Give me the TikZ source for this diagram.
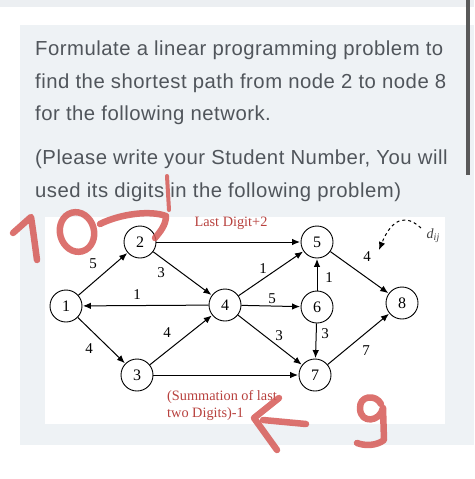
\documentclass[tikz,border=0pt]{standalone}
\usepackage{fontspec}
\setmainfont{Liberation Serif}
\newfontfamily\uisans[LetterSpace=2.5]{Liberation Sans}
\usetikzlibrary{arrows.meta}
\definecolor{panel}{HTML}{EEF2F5}
\definecolor{topband}{HTML}{ECEFF2}
\definecolor{txt}{HTML}{50555B}
\definecolor{dred}{HTML}{B8413E}
\definecolor{pen}{HTML}{D65A56}
\tikzset{
  qtext/.style={anchor=base west, inner sep=0, font=\uisans\fontsize{20.3}{21}\selectfont, text=txt},
  vtx/.style={circle, draw, line width=0.9pt, minimum size=32pt, inner sep=0, font=\fontsize{16}{16}\selectfont, fill=white},
  arr/.style={-{Latex[length=8pt,width=6.5pt]}, line width=1pt, shorten >=0.5pt},
  lbl/.style={font=\fontsize{15}{15}\selectfont, inner sep=0},
  redtxt/.style={font=\fontsize{14.3}{17}\selectfont, text=dred, inner sep=0},
  penstroke/.style={draw=pen, line width=6.5pt, line cap=round, line join=round, opacity=0.85}
}
\begin{document}
\begin{tikzpicture}[x=1pt,y=-1pt]
\useasboundingbox (0,0) rectangle (474,479);
\fill[white] (0,0) rectangle (474,479);
\fill[topband] (0,0) rectangle (474,7);
\fill[panel] (20,25) rectangle (474,445);
\fill[white] (45,217) rectangle (445,424);
\fill[gray!70!black] (466,0) rectangle (470,175);

\node[qtext] (q1) at (35,55) {Formulate a linear programming problem to};
\node[qtext] (q2) at (35,88) {find the shortest path from node 2 to node 8};
\node[qtext] (q3) at (35,120) {for the following network.};
\node[qtext] (q4) at (35,164) {(Please write your Student Number, You will};
\node[qtext] (q5) at (35,197) {used its digits in the following problem)};

\node[vtx] (n1) at (66,306) {1};
\node[vtx] (n2) at (140,242) {2};
\node[vtx] (n3) at (137,375) {3};
\node[vtx] (n4) at (225,305) {4};
\node[vtx] (n5) at (317,242) {5};
\node[vtx] (n6) at (317,307) {6};
\node[vtx] (n7) at (315,375) {7};
\node[vtx] (n8) at (402,303) {8};

\draw[arr] (n1) -- (n2);
\draw[arr] (n2) -- (n4);
\draw[arr] (n4) -- (n1);
\draw[arr] (n1) -- (n3);
\draw[arr] (n3) -- (n4);
\draw[arr] (n2) -- (n5);
\draw[arr] (n4) -- (n5);
\draw[arr] (n4) -- (n6);
\draw[arr] (n6) -- (n5);
\draw[arr] (n4) -- (n7);
\draw[arr] (n6) -- (n7);
\draw[arr] (n3) -- (n7);
\draw[arr] (n5) -- (n8);
\draw[arr] (n7) -- (n8);

\node[lbl] (w12) at (93,264) {5};
\node[lbl] (w24) at (161,273) {3};
\node[lbl] (w41) at (137,295) {1};
\node[lbl] (w13) at (89,349) {4};
\node[lbl] (w34) at (167,333) {4};
\node[lbl] (w45) at (263,269) {1};
\node[lbl] (w46) at (272,299) {5};
\node[lbl] (w65) at (329,278) {1};
\node[lbl] (w47) at (279,336) {3};
\node[lbl] (w67) at (325,334) {3};
\node[lbl] (w58) at (367,257) {4};
\node[lbl] (w78) at (366,351) {7};

\node[redtxt] (w25) at (231,223) {Last Digit+2};
\node[redtxt, anchor=north west, align=left] (w37) at (167,390) {(Summation of last\\two Digits)-1};

\node[inner sep=0, font=\fontsize{14}{14}\selectfont\itshape, text=black!75] (dij) at (433,236) {d\raisebox{-2pt}{\fontsize{10}{10}\selectfont ij}};
\coordinate (dtail) at (421,228);
\coordinate (dhead) at (379,250);
\draw[dashed, line width=1pt, -{Latex[length=8pt,width=6.5pt]}] (dtail) .. controls (406,214) and (392,218) .. (dhead);

% handwriting
\draw[penstroke] (13,233) -- (31,217) .. controls (33,230) and (35,245) .. (37,260);
\draw[penstroke, rotate around={15:(77,232)}] (77,232) ellipse [x radius=17, y radius=20];
\draw[penstroke] (100,224) .. controls (120,214) and (150,210) .. (166,216) .. controls (166,225) and (160,232) .. (155,238);
\draw[penstroke, line width=4pt] (167,176) -- (169,210);
\draw[penstroke] (279,398) -- (254,418) -- (277,450);
\draw[penstroke] (263,420) -- (306,424);
\draw[penstroke] (381,404) .. controls (376,394) and (359,395) .. (360,409) .. controls (361,424) and (380,422) .. (383,408) -- (384,440) .. controls (376,446) and (365,446) .. (357,443);
\end{tikzpicture}
\end{document}
